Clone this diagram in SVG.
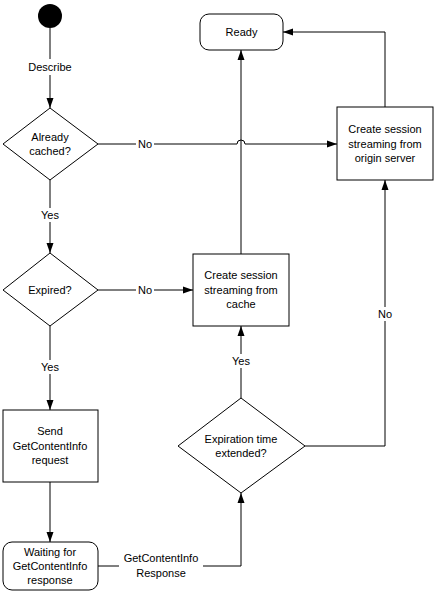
<svg xmlns="http://www.w3.org/2000/svg" width="436" height="593" viewBox="0 0 436 593">
<style>
.s{fill:#fff;stroke:#000;stroke-width:1}
.t{font-family:"Liberation Sans",Arial,sans-serif;font-size:11px;fill:#000;text-anchor:middle}
.c{fill:none;stroke:#000;stroke-width:1}
.bg{fill:#fff;stroke:none}
</style>
<defs>
<marker id="a" viewBox="0 0 10 10" refX="10" refY="5" markerWidth="10" markerHeight="10" markerUnits="userSpaceOnUse" orient="auto">
<path d="M0,1.5 L10,5 L0,8.5 Z" fill="#000"/>
</marker>
</defs>
<rect width="436" height="593" fill="#fff"/>
<g id="connectors">
<path class="c" d="M50,28 V108" marker-end="url(#a)"/>
<path class="c" d="M98,144 H237 A4,4 0 0 1 245,144 H337" marker-end="url(#a)"/>
<path class="c" d="M50,180 V253" marker-end="url(#a)"/>
<path class="c" d="M98,290 H193" marker-end="url(#a)"/>
<path class="c" d="M50,326 V410" marker-end="url(#a)"/>
<path class="c" d="M50,482 V542" marker-end="url(#a)"/>
<path class="c" d="M98,566 H241 V493" marker-end="url(#a)"/>
<path class="c" d="M241,398 V326" marker-end="url(#a)"/>
<path class="c" d="M305,446 H385 V180" marker-end="url(#a)"/>
<path class="c" d="M241,254 V50" marker-end="url(#a)"/>
<path class="c" d="M385,107 V32 H283" marker-end="url(#a)"/>
<rect class="bg" x="26" y="59" width="48" height="16"/>
<text class="t" x="50" y="71">Describe</text>
<rect class="bg" x="136" y="137" width="18" height="14"/>
<text class="t" x="145" y="148">No</text>
<rect class="bg" x="38" y="208" width="24" height="14"/>
<text class="t" x="50" y="219">Yes</text>
<rect class="bg" x="136" y="283" width="18" height="14"/>
<text class="t" x="145" y="294">No</text>
<rect class="bg" x="38" y="360" width="24" height="14"/>
<text class="t" x="50" y="371">Yes</text>
<rect class="bg" x="229" y="354" width="24" height="14"/>
<text class="t" x="241" y="365">Yes</text>
<rect class="bg" x="376" y="307" width="18" height="14"/>
<text class="t" x="385" y="318">No</text>
<rect class="bg" x="119" y="549" width="84" height="30"/>
<text class="t" x="161" y="562">GetContentInfo</text>
<text class="t" x="161" y="577">Response</text>
</g>
<g id="start"><circle cx="50" cy="16" r="12" fill="#000"/></g>
<g id="ready">
<rect class="s" x="200" y="14" width="83" height="36" rx="9"/>
<text class="t" x="241.5" y="36">Ready</text>
</g>
<g id="cached">
<path class="s" d="M50,108 L98,144 L50,180 L3,144 Z"/>
<text class="t" x="50" y="141">Already</text>
<text class="t" x="50" y="155">cached?</text>
</g>
<g id="origin">
<rect class="s" x="337" y="107" width="96" height="73"/>
<text class="t" x="385" y="133">Create session</text>
<text class="t" x="385" y="148">streaming from</text>
<text class="t" x="385" y="162">origin server</text>
</g>
<g id="expired">
<path class="s" d="M50,253 L98,290 L50,326 L3,290 Z"/>
<text class="t" x="50" y="294">Expired?</text>
</g>
<g id="cache">
<rect class="s" x="193" y="254" width="96" height="72"/>
<text class="t" x="241" y="279">Create session</text>
<text class="t" x="241" y="294">streaming from</text>
<text class="t" x="241" y="308">cache</text>
</g>
<g id="extended">
<path class="s" d="M241,398 L305,446 L241,493 L178,446 Z"/>
<text class="t" x="241" y="443">Expiration time</text>
<text class="t" x="241" y="457">extended?</text>
</g>
<g id="send">
<rect class="s" x="3" y="410" width="95" height="72"/>
<text class="t" x="50" y="435">Send</text>
<text class="t" x="50" y="450">GetContentInfo</text>
<text class="t" x="50" y="464">request</text>
</g>
<g id="waiting">
<rect class="s" x="3" y="542" width="95" height="48" rx="9"/>
<text class="t" x="50" y="556">Waiting for</text>
<text class="t" x="50" y="570">GetContentInfo</text>
<text class="t" x="50" y="584">response</text>
</g>
</svg>
